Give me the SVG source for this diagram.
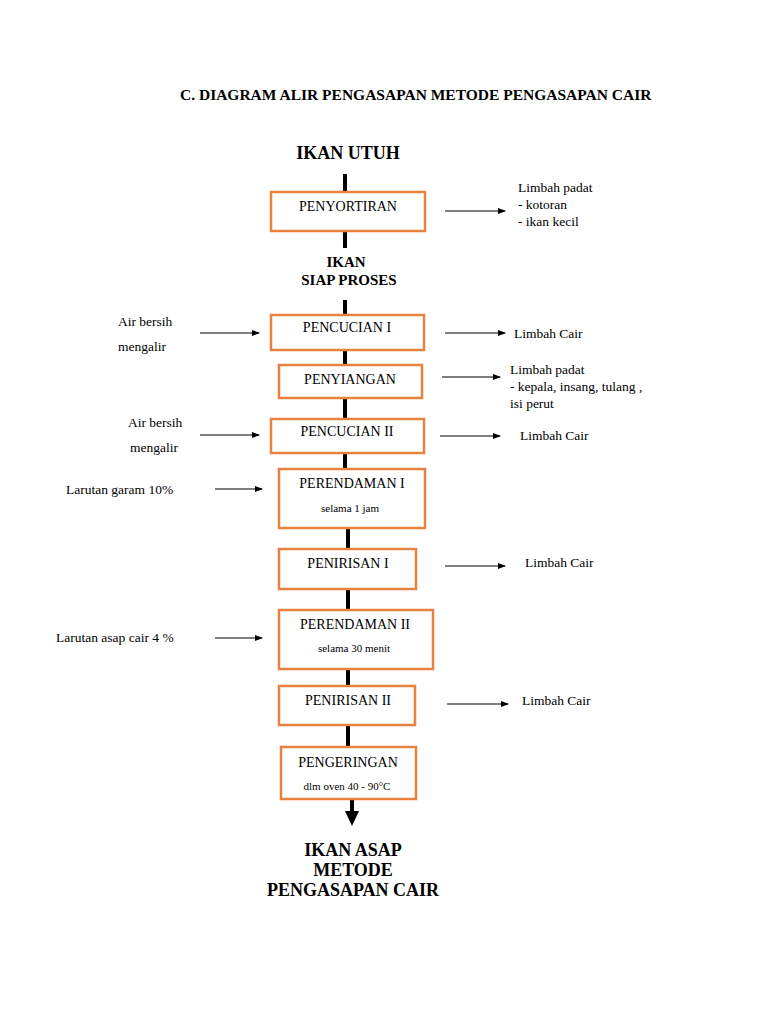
<svg xmlns="http://www.w3.org/2000/svg" width="768" height="1024" viewBox="0 0 768 1024">
<defs><marker id="ah" markerWidth="8" markerHeight="8" refX="7" refY="4" orient="auto" markerUnits="userSpaceOnUse"><path d="M0,1 L8,4 L0,7 Z" fill="#000"/></marker></defs>
<style>
text{font-family:"Liberation Serif",serif;fill:#000}
.b{fill:#fff;stroke:#E8823F;stroke-width:2.5}
.t{font-size:14px;text-anchor:middle}
.s{font-size:11px;text-anchor:middle}
.l{font-size:13.5px}
.h{font-weight:bold;text-anchor:middle}
.v{stroke:#000;stroke-width:4}
.a{stroke:#000;stroke-width:1.2;marker-end:url(#ah)}
</style>
<text x="180" y="100" style="font-size:15.5px;font-weight:bold">C.  DIAGRAM ALIR PENGASAPAN METODE PENGASAPAN CAIR</text>
<text x="348" y="159" class="h" style="font-size:18px">IKAN UTUH</text>
<text x="346" y="267" class="h" style="font-size:15px">IKAN</text>
<text x="349" y="285" class="h" style="font-size:15px">SIAP PROSES</text>
<text x="353" y="856" class="h" style="font-size:18px">IKAN ASAP</text>
<text x="353" y="876" class="h" style="font-size:18px">METODE</text>
<text x="353" y="896" class="h" style="font-size:18px">PENGASAPAN CAIR</text>
<g id="connectors">
<path class="v" d="M345 174V192M345 231V248M345 300V315M345 350V365M345 398V419M345 453V469M348 528V549M348 589V610M348 669V686M348 725V747"/>
<path d="M352 799V812" stroke="#000" stroke-width="4"/>
<path d="M345 811H359L352 826Z" fill="#000"/>
<line class="a" x1="445" y1="211" x2="505" y2="211"/>
<line class="a" x1="445" y1="333" x2="505" y2="333"/>
<line class="a" x1="442" y1="377" x2="500" y2="377"/>
<line class="a" x1="440" y1="436" x2="500" y2="436"/>
<line class="a" x1="445" y1="566" x2="505" y2="566"/>
<line class="a" x1="447" y1="704" x2="508" y2="704"/>
<line class="a" x1="200" y1="333" x2="259" y2="333"/>
<line class="a" x1="200" y1="435" x2="259" y2="435"/>
<line class="a" x1="215" y1="489" x2="262" y2="489"/>
<line class="a" x1="215" y1="638" x2="262" y2="638"/>
</g>
<g id="n1"><rect class="b" x="271" y="192" width="154" height="39"/><text class="t" x="348" y="211">PENYORTIRAN</text></g>
<g id="n2"><rect class="b" x="271" y="315" width="153" height="35"/><text class="t" x="347" y="332">PENCUCIAN I</text></g>
<g id="n3"><rect class="b" x="279" y="365" width="143" height="33"/><text class="t" x="350" y="384">PENYIANGAN</text></g>
<g id="n4"><rect class="b" x="271" y="419" width="153" height="34"/><text class="t" x="347" y="436">PENCUCIAN II</text></g>
<g id="n5"><rect class="b" x="279" y="469" width="146" height="59"/><text class="t" x="352" y="488">PERENDAMAN I</text><text class="s" x="350" y="512">selama 1 jam</text></g>
<g id="n6"><rect class="b" x="279" y="549" width="137" height="40"/><text class="t" x="348" y="568">PENIRISAN I</text></g>
<g id="n7"><rect class="b" x="279" y="610" width="154" height="59"/><text class="t" x="355" y="629">PERENDAMAN II</text><text class="s" x="354" y="652">selama 30 menit</text></g>
<g id="n8"><rect class="b" x="279" y="686" width="136" height="39"/><text class="t" x="348" y="705">PENIRISAN II</text></g>
<g id="n9"><rect class="b" x="281" y="747" width="135" height="52"/><text class="t" x="348" y="767">PENGERINGAN</text><text class="s" x="347" y="790">dlm oven 40 - 90°C</text></g>
<g id="side">
<text class="l" x="518" y="192">Limbah padat</text><text class="l" x="518" y="209">- kotoran</text><text class="l" x="518" y="226">- ikan kecil</text>
<text class="l" x="514" y="338">Limbah Cair</text>
<text class="l" x="510" y="374">Limbah padat</text><text class="l" x="510" y="391">- kepala, insang, tulang ,</text><text class="l" x="510" y="408">isi perut</text>
<text class="l" x="520" y="440">Limbah Cair</text>
<text class="l" x="525" y="567">Limbah Cair</text>
<text class="l" x="522" y="705">Limbah Cair</text>
<text class="l" x="118" y="326">Air bersih</text><text class="l" x="118" y="351">mengalir</text>
<text class="l" x="128" y="427">Air bersih</text><text class="l" x="130" y="452">mengalir</text>
<text class="l" x="66" y="494">Larutan garam 10%</text>
<text class="l" x="56" y="642">Larutan  asap cair 4 %</text>
</g>
</svg>
